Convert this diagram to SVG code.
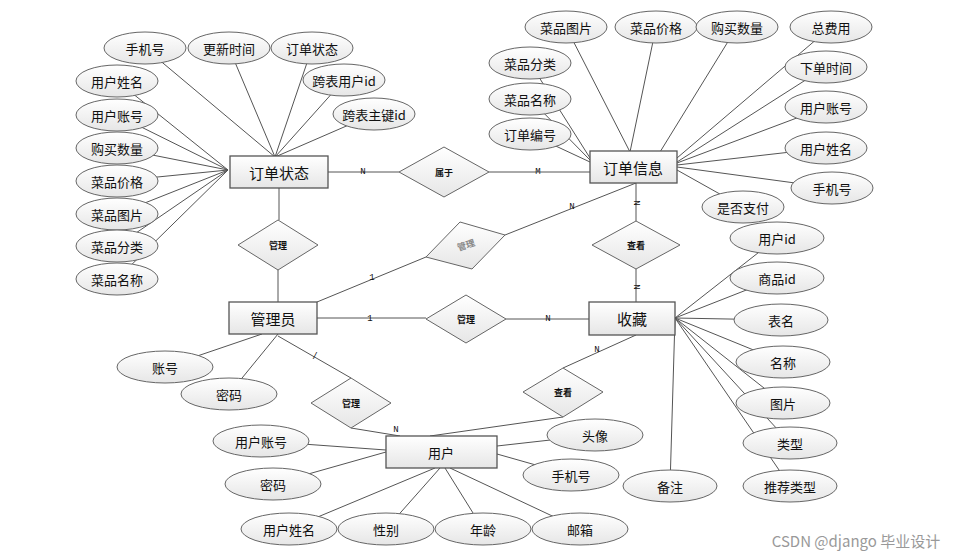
<svg xmlns="http://www.w3.org/2000/svg" width="967" height="557" viewBox="0 0 967 557">
<defs>
<linearGradient id="g" x1="0" y1="0" x2="0" y2="1"><stop offset="0" stop-color="#ffffff"/><stop offset="1" stop-color="#e6e6e6"/></linearGradient>
<style>
text{font-family:"Noto Sans CJK SC","Liberation Sans",sans-serif;font-size:13px;fill:#111;text-anchor:middle;dominant-baseline:central}
.e{fill:url(#g);stroke:#666;stroke-width:1}
.r{fill:url(#g);stroke:#555;stroke-width:1.3}
.d{fill:url(#g);stroke:#666;stroke-width:1}
.l{stroke:#555;stroke-width:1;fill:none}
.big{font-size:15px}
.sm{font-size:9px;font-weight:bold}
.c{font-size:9px;font-family:"Liberation Mono",monospace}
</style>
</defs>
<rect width="967" height="557" fill="#fff"/>
<g id="connectors">
<path class="l" d="M275,157L145,48M275,157L229,48M275,157L312,48M275,157L344,80M275,157L374,114M228,170L117,81M228,170L117,115M228,170L117,148M228,170L117,181M228,170L117,214M228,170L117,246M228,170L117,279"/>
<path class="l" d="M630,152L566,27M630,152L656,27M660,152L737,27M677,158L831,27M590,158L530,63M677,162L826,67M590,160L530,99M677,163L826,107M590,162L530,134M677,165L826,148M677,167L832,188M677,170L743,207"/>
<path class="l" d="M675,318L777,238M675,318L777,278M675,318L781,320M675,318L783,362M675,318L783,403M675,318L790,443M675,318L790,486M675,318L670,486"/>
<path class="l" d="M262,334L165,367M278,334L229,394M386,450L261,441M386,452L273,484M435,468L289,529M440,468L386,529M445,468L483,529M450,468L580,529M497,446L595,435M497,454L571,475"/>
<path class="l" d="M328,172H399M489,172H590M636,183V221M636,269V302M279,188V220M278,270V302M317,302L426,257M505,235L636,183M317,318H426M506,319H589M278,336L351,378M351,428L400,436M636,335L563,368M563,417L430,436"/>
<g>
<text class="c" x="363" y="172">N</text><text class="c" x="538" y="172">M</text>
<text class="c" x="636" y="203" transform="rotate(90 636 203)">N</text>
<text class="c" x="636" y="287" transform="rotate(90 636 287)">N</text>
<text class="c" x="372" y="278">1</text><text class="c" x="572" y="207">N</text>
<text class="c" x="370" y="319">1</text><text class="c" x="548" y="319">N</text>
<text class="c" x="315" y="357">/</text><text class="c" x="396" y="430">N</text>
<text class="c" x="597" y="350">N</text>
</g>
</g>
<g id="e1"><rect class="r" x="230" y="156" width="98" height="32"/><text class="big" x="279" y="172">订单状态</text></g>
<g id="e2"><rect class="r" x="590" y="151" width="87" height="32"/><text class="big" x="633" y="167">订单信息</text></g>
<g id="e3"><rect class="r" x="229" y="302" width="88" height="32"/><text class="big" x="273" y="318">管理员</text></g>
<g id="e4"><rect class="r" x="589" y="302" width="86" height="33"/><text class="big" x="632" y="318">收藏</text></g>
<g id="e5"><rect class="r" x="386" y="436" width="111" height="32"/><text x="441" y="452">用户</text></g>
<g id="r1"><polygon class="d" points="399,172 444,147 489,172 444,197"/><text class="sm" x="444" y="172">属于</text></g>
<g id="r2"><polygon class="d" points="238,245 278,220 318,245 278,270"/><text class="sm" x="278" y="245">管理</text></g>
<g id="r3"><polygon class="d" points="426,257 460,222 505,235 472,269"/><text class="sm" x="466" y="245" fill="#777" transform="rotate(-18 466 245)" style="fill:#888">管理</text></g>
<g id="r4"><polygon class="d" points="592,245 636,221 680,245 636,269"/><text class="sm" x="636" y="245">查看</text></g>
<g id="r5"><polygon class="d" points="426,319 466,295 506,319 466,343"/><text class="sm" x="466" y="319">管理</text></g>
<g id="r6"><polygon class="d" points="523,392 563,368 603,392 563,417"/><text class="sm" x="563" y="392">查看</text></g>
<g id="r7"><polygon class="d" points="311,403 351,378 391,403 351,428"/><text class="sm" x="351" y="403">管理</text></g>
<g id="a1"><ellipse class="e" cx="145" cy="48" rx="41" ry="16"/><text x="145" y="48">手机号</text></g>
<g id="a2"><ellipse class="e" cx="229" cy="48" rx="41" ry="16"/><text x="229" y="48">更新时间</text></g>
<g id="a3"><ellipse class="e" cx="312" cy="48" rx="41" ry="16"/><text x="312" y="48">订单状态</text></g>
<g id="a4"><ellipse class="e" cx="344" cy="80" rx="41" ry="16"/><text x="344" y="80">跨表用户id</text></g>
<g id="a5"><ellipse class="e" cx="374" cy="114" rx="41" ry="16"/><text x="374" y="114">跨表主键id</text></g>
<g id="a6"><ellipse class="e" cx="117" cy="81" rx="41" ry="16"/><text x="117" y="81">用户姓名</text></g>
<g id="a7"><ellipse class="e" cx="117" cy="115" rx="41" ry="16"/><text x="117" y="115">用户账号</text></g>
<g id="a8"><ellipse class="e" cx="117" cy="148" rx="41" ry="16"/><text x="117" y="148">购买数量</text></g>
<g id="a9"><ellipse class="e" cx="117" cy="181" rx="41" ry="16"/><text x="117" y="181">菜品价格</text></g>
<g id="a10"><ellipse class="e" cx="117" cy="214" rx="41" ry="16"/><text x="117" y="214">菜品图片</text></g>
<g id="a11"><ellipse class="e" cx="117" cy="246" rx="41" ry="16"/><text x="117" y="246">菜品分类</text></g>
<g id="a12"><ellipse class="e" cx="117" cy="279" rx="41" ry="16"/><text x="117" y="279">菜品名称</text></g>
<g id="b1"><ellipse class="e" cx="566" cy="27" rx="41" ry="16"/><text x="566" y="27">菜品图片</text></g>
<g id="b2"><ellipse class="e" cx="656" cy="27" rx="41" ry="16"/><text x="656" y="27">菜品价格</text></g>
<g id="b3"><ellipse class="e" cx="737" cy="27" rx="41" ry="16"/><text x="737" y="27">购买数量</text></g>
<g id="b4"><ellipse class="e" cx="831" cy="27" rx="41" ry="16"/><text x="831" y="27">总费用</text></g>
<g id="b5"><ellipse class="e" cx="530" cy="63" rx="41" ry="16"/><text x="530" y="63">菜品分类</text></g>
<g id="b6"><ellipse class="e" cx="826" cy="67" rx="41" ry="16"/><text x="826" y="67">下单时间</text></g>
<g id="b7"><ellipse class="e" cx="530" cy="99" rx="41" ry="16"/><text x="530" y="99">菜品名称</text></g>
<g id="b8"><ellipse class="e" cx="826" cy="107" rx="41" ry="16"/><text x="826" y="107">用户账号</text></g>
<g id="b9"><ellipse class="e" cx="530" cy="134" rx="41" ry="16"/><text x="530" y="134">订单编号</text></g>
<g id="b10"><ellipse class="e" cx="826" cy="148" rx="41" ry="16"/><text x="826" y="148">用户姓名</text></g>
<g id="b11"><ellipse class="e" cx="832" cy="188" rx="41" ry="16"/><text x="832" y="188">手机号</text></g>
<g id="b12"><ellipse class="e" cx="743" cy="207" rx="41" ry="16"/><text x="743" y="207">是否支付</text></g>
<g id="c1"><ellipse class="e" cx="777" cy="238" rx="47" ry="16"/><text x="777" y="238">用户id</text></g>
<g id="c2"><ellipse class="e" cx="777" cy="278" rx="47" ry="16"/><text x="777" y="278">商品id</text></g>
<g id="c3"><ellipse class="e" cx="781" cy="320" rx="47" ry="16"/><text x="781" y="320">表名</text></g>
<g id="c4"><ellipse class="e" cx="783" cy="362" rx="47" ry="16"/><text x="783" y="362">名称</text></g>
<g id="c5"><ellipse class="e" cx="783" cy="403" rx="47" ry="16"/><text x="783" y="403">图片</text></g>
<g id="c6"><ellipse class="e" cx="790" cy="443" rx="47" ry="16"/><text x="790" y="443">类型</text></g>
<g id="c7"><ellipse class="e" cx="790" cy="486" rx="47" ry="16"/><text x="790" y="486">推荐类型</text></g>
<g id="c8"><ellipse class="e" cx="670" cy="486" rx="47" ry="16"/><text x="670" y="486">备注</text></g>
<g id="d1"><ellipse class="e" cx="165" cy="367" rx="48" ry="16"/><text x="165" y="367">账号</text></g>
<g id="d2"><ellipse class="e" cx="229" cy="394" rx="48" ry="16"/><text x="229" y="394">密码</text></g>
<g id="f1"><ellipse class="e" cx="261" cy="441" rx="48" ry="16"/><text x="261" y="441">用户账号</text></g>
<g id="f2"><ellipse class="e" cx="273" cy="484" rx="48" ry="16"/><text x="273" y="484">密码</text></g>
<g id="f3"><ellipse class="e" cx="289" cy="529" rx="48" ry="16"/><text x="289" y="529">用户姓名</text></g>
<g id="f4"><ellipse class="e" cx="386" cy="529" rx="48" ry="16"/><text x="386" y="529">性别</text></g>
<g id="f5"><ellipse class="e" cx="483" cy="529" rx="48" ry="16"/><text x="483" y="529">年龄</text></g>
<g id="f6"><ellipse class="e" cx="580" cy="529" rx="48" ry="16"/><text x="580" y="529">邮箱</text></g>
<g id="f7"><ellipse class="e" cx="595" cy="435" rx="48" ry="16"/><text x="595" y="435">头像</text></g>
<g id="f8"><ellipse class="e" cx="571" cy="475" rx="48" ry="16"/><text x="571" y="475">手机号</text></g>
<text x="856" y="540" style="font-size:15px;fill:#999">CSDN @django  毕业设计</text>
</svg>
